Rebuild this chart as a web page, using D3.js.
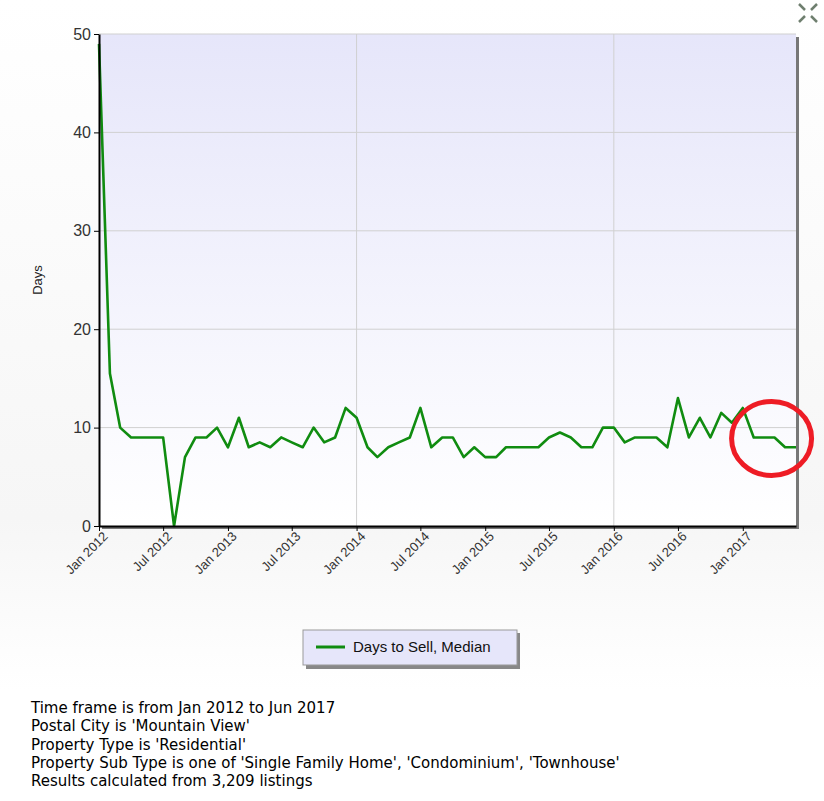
<!DOCTYPE html>
<html><head><meta charset="utf-8">
<script src="https://cdn.jsdelivr.net/npm/d3@7"></script>
<style>
body{margin:0;background:#fff;font-family:"Liberation Sans",Arial,sans-serif}
.note{position:absolute;left:31px;top:699px;font-family:"DejaVu Sans",Verdana,sans-serif;font-size:15px;line-height:18.3px;color:#000;letter-spacing:0px}
</style></head><body>
<svg id="chart" width="824" height="690" style="position:absolute;left:0;top:0"></svg>
<div class="note" id="note"></div>
<script>
// Days to Sell, Median  Jan 2012 .. Jun 2017
var startMonth = new Date(2012, 0, 1);
var daysMedian = [49,15.5,10,9,9,9,9,0,7,9,9,10,8,11,8,8.5,8,9,8.5,8,10,8.5,9,12,
  11,8,7,8,8.5,9,12,8,9,9,7,8,7,7,8,8,8,8,9,9.5,9,8,8,10,
  10,8.5,9,9,9,8,13,9,11,9,11.5,10.5,12,9,9,9,8,8];
var yTicks = [0,10,20,30,40,50];
var noteLines = ["Time frame is from Jan 2012 to Jun 2017","Postal City is 'Mountain View'",
  "Property Type is 'Residential'","Property Sub Type is one of 'Single Family Home', 'Condominium', 'Townhouse'",
  "Results calculated from 3,209 listings"];

var svg = d3.select("#chart");
var L = 99, R = 796, T = 34, B = 526;
var months = daysMedian.map(function(d,i){return d3.timeMonth.offset(startMonth,i);});
var x = d3.scaleTime().domain([months[0], months[months.length-1]]).range([L,R]);
var y = d3.scaleLinear().domain([0,50]).range([B,T]);

var defs = svg.append("defs");
var g1 = defs.append("linearGradient").attr("id","bg").attr("x1",0).attr("y1",0).attr("x2",0).attr("y2",1);
g1.append("stop").attr("offset",0).attr("stop-color","#e6e6fa");
g1.append("stop").attr("offset",1).attr("stop-color","#ffffff");
var g2 = defs.append("linearGradient").attr("id","page").attr("x1",0).attr("y1",0).attr("x2",0).attr("y2",1);
g2.append("stop").attr("offset",0).attr("stop-color","#ffffff");
g2.append("stop").attr("offset",0.75).attr("stop-color","#f6f6f6");
g2.append("stop").attr("offset",1).attr("stop-color","#ffffff");
svg.append("rect").attr("width",824).attr("height",690).attr("fill","url(#page)");

// shadow + plot background
svg.append("rect").attr("x",L+3).attr("y",T+3).attr("width",R-L).attr("height",B-T).attr("fill","#777");
svg.append("rect").attr("x",L).attr("y",T).attr("width",R-L).attr("height",B-T).attr("fill","url(#bg)");

var xTicks = d3.timeMonth.every(6).range(months[0], d3.timeMonth.offset(months[months.length-1],1));
svg.append("g").selectAll("line").data(xTicks.filter(function(d){return d.getMonth()==0 && d.getFullYear()%2==0 && d>months[0];}))
  .join("line").attr("x1",function(d){return x(d);}).attr("x2",function(d){return x(d);})
  .attr("y1",T).attr("y2",B).attr("stroke","#d0d0d0");
svg.append("g").selectAll("line").data(yTicks.slice(1))
  .join("line").attr("x1",L).attr("x2",R).attr("y1",function(d){return y(d);}).attr("y2",function(d){return y(d);})
  .attr("stroke","#d0d0d0");

var line = d3.line().x(function(d,i){return x(months[i]);}).y(function(d){return y(d);});
svg.append("path").datum(daysMedian).attr("d",line).attr("fill","none")
  .attr("stroke","#108c10").attr("stroke-width",2.6).attr("stroke-linejoin","round");

var ya = svg.append("g").attr("transform","translate("+L+",0)")
  .call(d3.axisLeft(y).tickValues(yTicks).tickSize(5).tickSizeOuter(0).tickPadding(3));
ya.select(".domain").attr("stroke","#000").attr("stroke-width",2);
ya.selectAll("text").attr("font-size",16).attr("fill","#333").attr("font-family","Liberation Sans");

var xa = svg.append("g").attr("transform","translate(0,"+B+")")
  .call(d3.axisBottom(x).tickValues(xTicks).tickSize(5).tickSizeOuter(0).tickFormat(d3.timeFormat("%b %Y")));
xa.select(".domain").attr("stroke","#000").attr("stroke-width",2);
xa.selectAll(".tick line").attr("stroke","#000");
xa.selectAll("text").attr("font-size",13).attr("fill","#333").attr("font-family","Liberation Sans")
  .attr("text-anchor","end").attr("transform","translate(6,8) rotate(-45)").attr("dy","0.35em").attr("y",0).attr("x",0);

svg.append("text").attr("transform","translate(42,280) rotate(-90)").attr("text-anchor","middle")
  .attr("font-size",13).attr("fill","#222").text("Days");

// legend
svg.append("rect").attr("x",306).attr("y",633).attr("width",214).attr("height",36).attr("fill","#888");
svg.append("rect").attr("x",303).attr("y",630).attr("width",214).attr("height",35).attr("fill","#e6e6fa").attr("stroke","#999");
svg.append("line").attr("x1",316).attr("x2",345).attr("y1",647).attr("y2",647).attr("stroke","#108c10").attr("stroke-width",3);
svg.append("text").attr("x",353).attr("y",652).attr("font-size",15).attr("fill","#111").text("Days to Sell, Median");

// highlight circle
svg.append("ellipse").attr("cx",x(months[62])+8).attr("cy",y(9)+1).attr("rx",40).attr("ry",37)
  .attr("fill","none").attr("stroke","#ee1c25").attr("stroke-width",5);

// expand icon
var ic = svg.append("g").attr("transform","translate(808,13)").attr("stroke","#6f7f6f").attr("stroke-width",2.5);
[[-1,-1],[1,-1],[-1,1],[1,1]].forEach(function(s){
  ic.append("line").attr("x1",s[0]*3).attr("y1",s[1]*3).attr("x2",s[0]*9).attr("y2",s[1]*9);
});

d3.select("#note").selectAll("div").data(noteLines).join("div").text(function(d){return d;});
</script></body></html>
